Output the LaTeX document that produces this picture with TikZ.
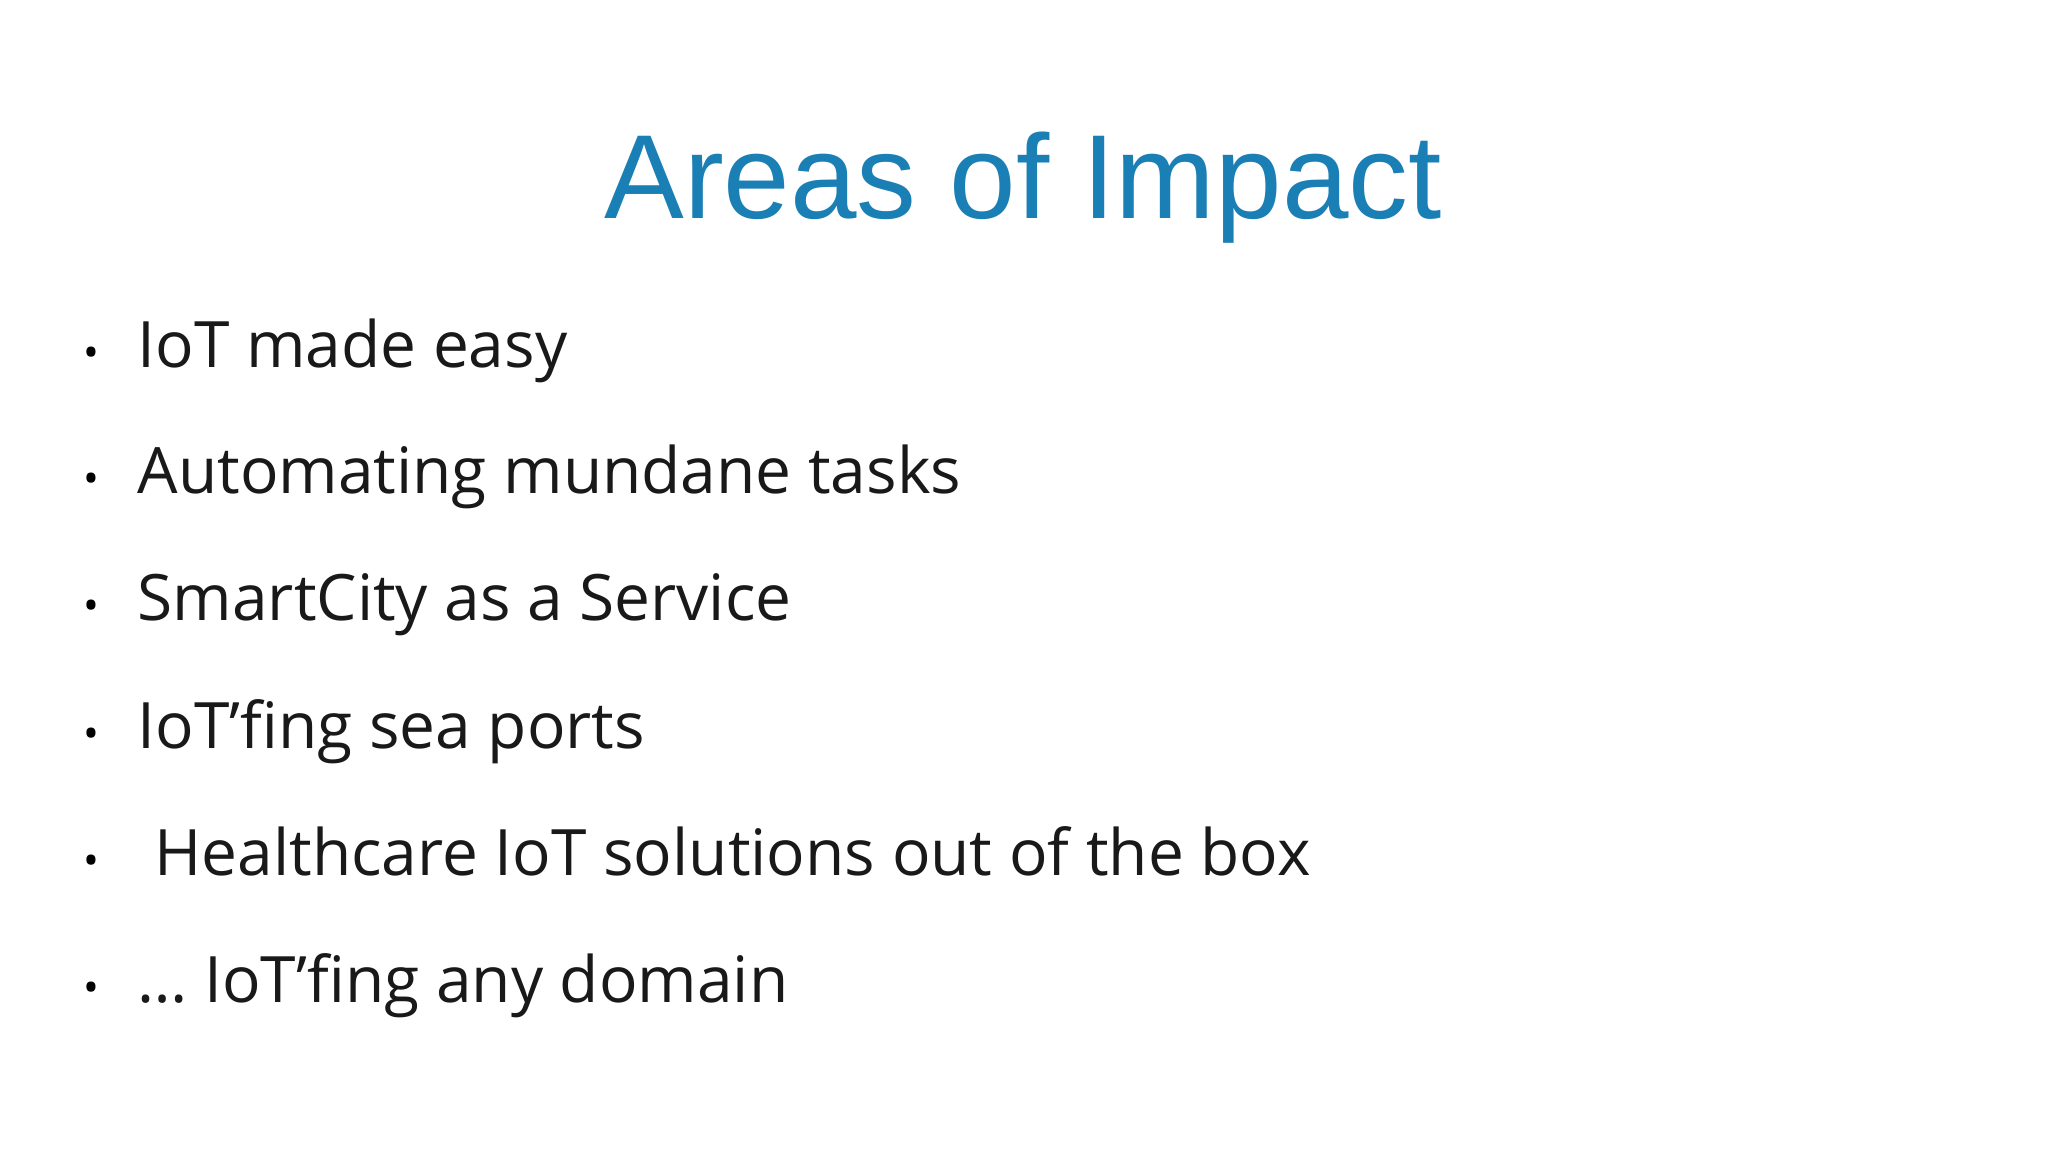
\documentclass[tikz,border=0pt]{standalone}
\usepackage{fontspec}
\setmainfont{Open Sans}
\newfontfamily\titlefont{Liberation Sans}
\definecolor{titleblue}{HTML}{1A7FB5}
\begin{document}
\begin{tikzpicture}[x=0.01cm,y=-0.01cm,
  itemtext/.style={anchor=base west,inner sep=0pt,font=\fontsize{18.2}{22}\selectfont,text=black!90},
  bul/.style={anchor=base,inner sep=0pt,font=\fontsize{12}{14}\selectfont}]
\useasboundingbox[fill=white] (0,0) rectangle (2048,1152);
\node[anchor=base,inner sep=0pt,text=titleblue,font=\titlefont\fontsize{34}{40}\selectfont] (title) at (1023,219) {Areas of Impact};
\foreach \y/\x/\t [count=\i] in {368/137/IoT made easy,494/137/Automating mundane tasks,620/137/SmartCity as a Service,748/137/IoT’fing sea ports,875/154/Healthcare IoT solutions out of the box,1002/137/… IoT’fing any domain}{
  \node[bul] (b\i) at (91,\y) {•};
  \node[itemtext] (t\i) at (\x,\y) {\t};
}
\end{tikzpicture}
\end{document}
